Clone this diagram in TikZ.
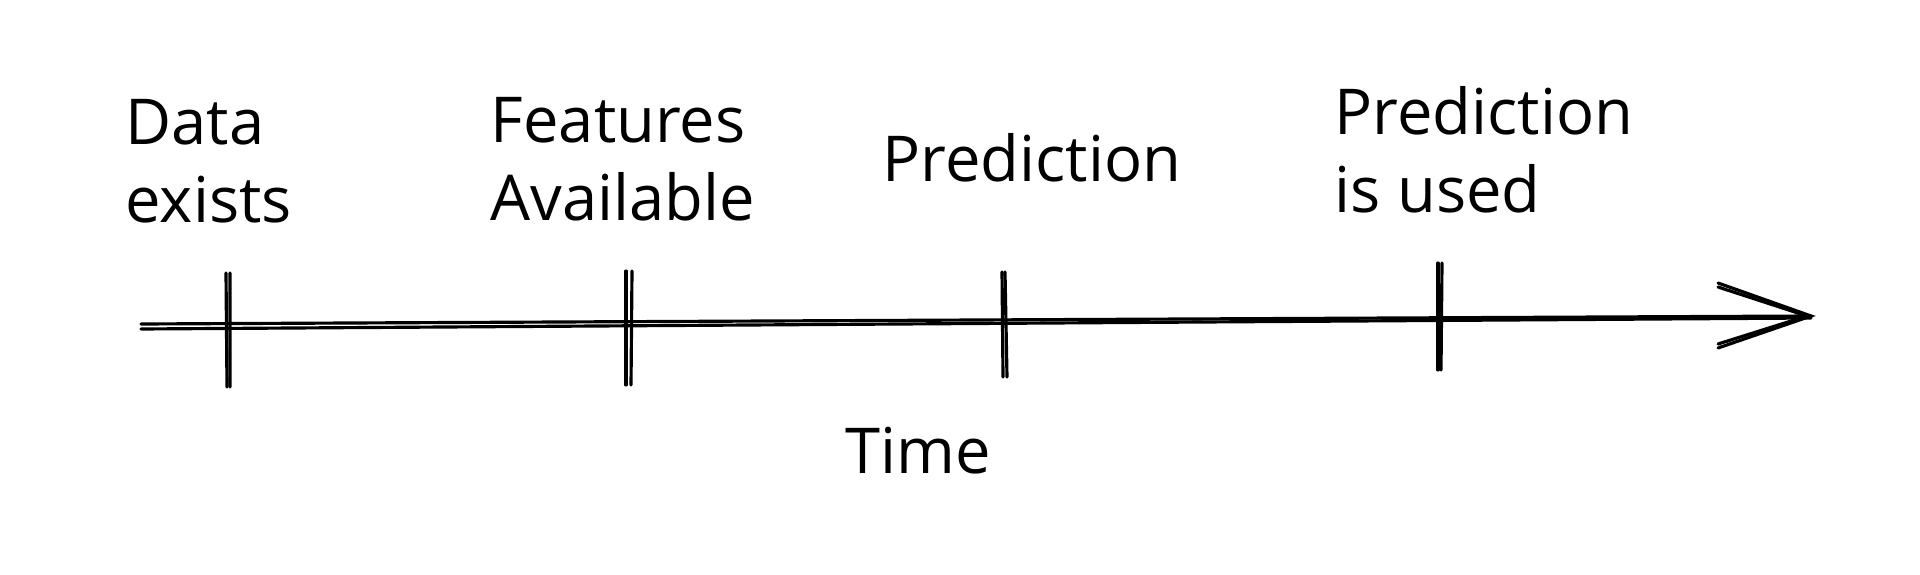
\documentclass[tikz,border=0pt]{standalone}
\usepackage{fontspec}
\setmainfont{Open Sans}

\tikzset{
  stroke/.style={black, line width=0.9pt, line cap=round},
  label/.style={anchor=base west, align=left, inner sep=0pt, font=\fontsize{18}{22}\selectfont}
}

\begin{document}
\begin{tikzpicture}

\useasboundingbox (0,0) rectangle (19.2,5.74);

\coordinate (S) at (1.41,2.50);
\coordinate (T) at (18.11,2.58);
\coordinate (U) at (17.18,2.91);
\coordinate (V) at (17.18,2.26);

\coordinate (A1) at (2.26,3.01);
\coordinate (A2) at (2.27,1.87);
\coordinate (B1) at (6.26,3.03);
\coordinate (B2) at (6.26,1.89);
\coordinate (C1) at (10.02,3.02);
\coordinate (C2) at (10.03,1.97);
\coordinate (D1) at (14.38,3.11);
\coordinate (D2) at (14.38,2.04);

% time axis
\draw [stroke] (S) -- (T);
\draw [stroke] ([yshift=-0.5mm]S) -- ([yshift=-0.2mm]T);
\draw [stroke] (U) -- (T) -- (V);
\draw [stroke] ([yshift=-0.4mm]U) -- ([xshift=-0.4mm]T) -- ([yshift=0.4mm]V);

% ticks
\draw [stroke] (A1) -- (A2);
\draw [stroke] ([xshift=0.4mm]A1) -- ([xshift=0.3mm]A2);
\draw [stroke] (B1) -- (B2);
\draw [stroke] ([xshift=0.6mm]B1) -- ([xshift=0.5mm]B2);
\draw [stroke] (C1) -- (C2);
\draw [stroke] ([xshift=0.3mm]C1) -- ([xshift=0.4mm]C2);
\draw [stroke] (D1) -- (D2);
\draw [stroke] ([xshift=0.4mm]D1) -- ([xshift=0.3mm]D2);

% labels (base anchor is the last line)
\node [label] (data) at (1.25,3.52) {Data\\exists};
\node [label] (feat) at (4.90,3.54) {Features\\Available};
\node [label] (pred) at (8.82,3.93) {Prediction};
\node [label] (used) at (13.34,3.62) {Prediction\\is used};
\node [label] (time) at (8.45,1.01) {Time};

\end{tikzpicture}
\end{document}
